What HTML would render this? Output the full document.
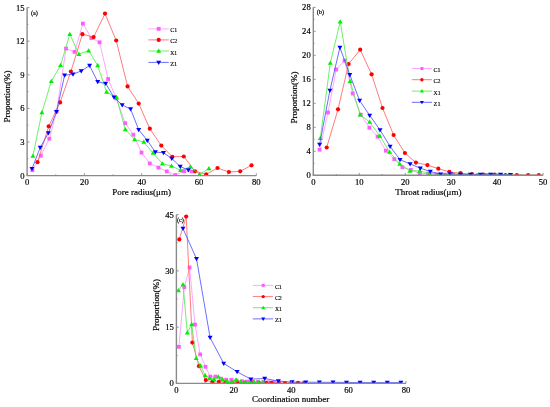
<!DOCTYPE html>
<html><head><meta charset="utf-8"><title>Pore and throat distribution</title>
<style>
html,body{margin:0;padding:0;background:#fff;}
svg{display:block;filter:blur(0.4px);}
text{font-family:"Liberation Serif","DejaVu Serif",serif;fill:#000;stroke:#000;stroke-width:0.18px;}
</style></head><body>
<svg width="550" height="407" viewBox="0 0 550 407">
<rect width="550" height="407" fill="#fff"/>
<clipPath id="ca"><rect x="20" y="0" width="245" height="175.9"/></clipPath><g clip-path="url(#ca)">
<polyline points="32.40,170.20 40.80,155.70 49.30,138.70 56.60,111.60 66.00,48.60 74.50,51.90 82.90,23.60 91.30,38.00 99.60,42.30 108.10,79.00 116.40,98.50 125.20,123.20 133.40,134.70 141.50,152.60 149.80,163.40 158.40,167.60 166.80,171.40 175.30,175.10 184.00,171.20 191.80,171.40" fill="none" stroke="#ff90ff" stroke-width="0.8" stroke-linejoin="round"/>
<rect x="30.50" y="168.30" width="3.80" height="3.80" fill="#ff5cff"/>
<rect x="38.90" y="153.80" width="3.80" height="3.80" fill="#ff5cff"/>
<rect x="47.40" y="136.80" width="3.80" height="3.80" fill="#ff5cff"/>
<rect x="54.70" y="109.70" width="3.80" height="3.80" fill="#ff5cff"/>
<rect x="64.10" y="46.70" width="3.80" height="3.80" fill="#ff5cff"/>
<rect x="72.60" y="50.00" width="3.80" height="3.80" fill="#ff5cff"/>
<rect x="81.00" y="21.70" width="3.80" height="3.80" fill="#ff5cff"/>
<rect x="89.40" y="36.10" width="3.80" height="3.80" fill="#ff5cff"/>
<rect x="97.70" y="40.40" width="3.80" height="3.80" fill="#ff5cff"/>
<rect x="106.20" y="77.10" width="3.80" height="3.80" fill="#ff5cff"/>
<rect x="114.50" y="96.60" width="3.80" height="3.80" fill="#ff5cff"/>
<rect x="123.30" y="121.30" width="3.80" height="3.80" fill="#ff5cff"/>
<rect x="131.50" y="132.80" width="3.80" height="3.80" fill="#ff5cff"/>
<rect x="139.60" y="150.70" width="3.80" height="3.80" fill="#ff5cff"/>
<rect x="147.90" y="161.50" width="3.80" height="3.80" fill="#ff5cff"/>
<rect x="156.50" y="165.70" width="3.80" height="3.80" fill="#ff5cff"/>
<rect x="164.90" y="169.50" width="3.80" height="3.80" fill="#ff5cff"/>
<rect x="173.40" y="173.20" width="3.80" height="3.80" fill="#ff5cff"/>
<rect x="182.10" y="169.30" width="3.80" height="3.80" fill="#ff5cff"/>
<rect x="189.90" y="169.50" width="3.80" height="3.80" fill="#ff5cff"/>
<polyline points="37.50,162.20 48.70,126.30 60.10,102.40 70.90,71.50 82.40,34.20 93.60,37.10 105.00,13.60 116.20,40.50 127.60,86.40 138.70,103.60 149.80,128.70 161.30,145.60 172.30,156.80 183.80,156.50 195.10,171.30 206.20,174.40 217.50,168.00 228.90,172.00 240.20,171.30 251.50,165.30" fill="none" stroke="#ff5a5a" stroke-width="0.8" stroke-linejoin="round"/>
<circle cx="37.50" cy="162.20" r="2.10" fill="#ff0000"/>
<circle cx="48.70" cy="126.30" r="2.10" fill="#ff0000"/>
<circle cx="60.10" cy="102.40" r="2.10" fill="#ff0000"/>
<circle cx="70.90" cy="71.50" r="2.10" fill="#ff0000"/>
<circle cx="82.40" cy="34.20" r="2.10" fill="#ff0000"/>
<circle cx="93.60" cy="37.10" r="2.10" fill="#ff0000"/>
<circle cx="105.00" cy="13.60" r="2.10" fill="#ff0000"/>
<circle cx="116.20" cy="40.50" r="2.10" fill="#ff0000"/>
<circle cx="127.60" cy="86.40" r="2.10" fill="#ff0000"/>
<circle cx="138.70" cy="103.60" r="2.10" fill="#ff0000"/>
<circle cx="149.80" cy="128.70" r="2.10" fill="#ff0000"/>
<circle cx="161.30" cy="145.60" r="2.10" fill="#ff0000"/>
<circle cx="172.30" cy="156.80" r="2.10" fill="#ff0000"/>
<circle cx="183.80" cy="156.50" r="2.10" fill="#ff0000"/>
<circle cx="195.10" cy="171.30" r="2.10" fill="#ff0000"/>
<circle cx="206.20" cy="174.40" r="2.10" fill="#ff0000"/>
<circle cx="217.50" cy="168.00" r="2.10" fill="#ff0000"/>
<circle cx="228.90" cy="172.00" r="2.10" fill="#ff0000"/>
<circle cx="240.20" cy="171.30" r="2.10" fill="#ff0000"/>
<circle cx="251.50" cy="165.30" r="2.10" fill="#ff0000"/>
<polyline points="32.90,156.00 41.90,112.50 51.30,81.20 60.60,65.30 69.80,34.20 78.90,54.20 88.60,50.80 97.70,65.60 106.60,92.10 116.50,97.50 125.30,129.50 134.60,139.40 143.80,142.10 153.10,153.10 162.40,163.70 171.50,166.00 180.50,170.30 190.40,166.80 199.50,174.50 208.90,168.40" fill="none" stroke="#44ee44" stroke-width="0.8" stroke-linejoin="round"/>
<polygon points="32.90,153.50 35.40,157.75 30.40,157.75" fill="#00f000"/>
<polygon points="41.90,110.00 44.40,114.25 39.40,114.25" fill="#00f000"/>
<polygon points="51.30,78.70 53.80,82.95 48.80,82.95" fill="#00f000"/>
<polygon points="60.60,62.80 63.10,67.05 58.10,67.05" fill="#00f000"/>
<polygon points="69.80,31.70 72.30,35.95 67.30,35.95" fill="#00f000"/>
<polygon points="78.90,51.70 81.40,55.95 76.40,55.95" fill="#00f000"/>
<polygon points="88.60,48.30 91.10,52.55 86.10,52.55" fill="#00f000"/>
<polygon points="97.70,63.10 100.20,67.35 95.20,67.35" fill="#00f000"/>
<polygon points="106.60,89.60 109.10,93.85 104.10,93.85" fill="#00f000"/>
<polygon points="116.50,95.00 119.00,99.25 114.00,99.25" fill="#00f000"/>
<polygon points="125.30,127.00 127.80,131.25 122.80,131.25" fill="#00f000"/>
<polygon points="134.60,136.90 137.10,141.15 132.10,141.15" fill="#00f000"/>
<polygon points="143.80,139.60 146.30,143.85 141.30,143.85" fill="#00f000"/>
<polygon points="153.10,150.60 155.60,154.85 150.60,154.85" fill="#00f000"/>
<polygon points="162.40,161.20 164.90,165.45 159.90,165.45" fill="#00f000"/>
<polygon points="171.50,163.50 174.00,167.75 169.00,167.75" fill="#00f000"/>
<polygon points="180.50,167.80 183.00,172.05 178.00,172.05" fill="#00f000"/>
<polygon points="190.40,164.30 192.90,168.55 187.90,168.55" fill="#00f000"/>
<polygon points="199.50,172.00 202.00,176.25 197.00,176.25" fill="#00f000"/>
<polygon points="208.90,165.90 211.40,170.15 206.40,170.15" fill="#00f000"/>
<polyline points="32.00,168.80 40.20,147.50 48.40,133.10 56.50,111.70 64.60,75.30 73.00,74.20 81.20,70.90 89.60,65.60 97.70,81.80 105.70,83.50 114.00,97.30 122.20,105.00 130.60,109.10 138.70,129.70 147.30,140.40 155.40,152.10 163.50,152.70 171.80,158.50 180.20,166.50 188.40,170.10" fill="none" stroke="#4848ff" stroke-width="0.8" stroke-linejoin="round"/>
<polygon points="32.00,171.30 34.50,167.05 29.50,167.05" fill="#0000ff"/>
<polygon points="40.20,150.00 42.70,145.75 37.70,145.75" fill="#0000ff"/>
<polygon points="48.40,135.60 50.90,131.35 45.90,131.35" fill="#0000ff"/>
<polygon points="56.50,114.20 59.00,109.95 54.00,109.95" fill="#0000ff"/>
<polygon points="64.60,77.80 67.10,73.55 62.10,73.55" fill="#0000ff"/>
<polygon points="73.00,76.70 75.50,72.45 70.50,72.45" fill="#0000ff"/>
<polygon points="81.20,73.40 83.70,69.15 78.70,69.15" fill="#0000ff"/>
<polygon points="89.60,68.10 92.10,63.85 87.10,63.85" fill="#0000ff"/>
<polygon points="97.70,84.30 100.20,80.05 95.20,80.05" fill="#0000ff"/>
<polygon points="105.70,86.00 108.20,81.75 103.20,81.75" fill="#0000ff"/>
<polygon points="114.00,99.80 116.50,95.55 111.50,95.55" fill="#0000ff"/>
<polygon points="122.20,107.50 124.70,103.25 119.70,103.25" fill="#0000ff"/>
<polygon points="130.60,111.60 133.10,107.35 128.10,107.35" fill="#0000ff"/>
<polygon points="138.70,132.20 141.20,127.95 136.20,127.95" fill="#0000ff"/>
<polygon points="147.30,142.90 149.80,138.65 144.80,138.65" fill="#0000ff"/>
<polygon points="155.40,154.60 157.90,150.35 152.90,150.35" fill="#0000ff"/>
<polygon points="163.50,155.20 166.00,150.95 161.00,150.95" fill="#0000ff"/>
<polygon points="171.80,161.00 174.30,156.75 169.30,156.75" fill="#0000ff"/>
<polygon points="180.20,169.00 182.70,164.75 177.70,164.75" fill="#0000ff"/>
<polygon points="188.40,172.60 190.90,168.35 185.90,168.35" fill="#0000ff"/>
</g>
<line x1="148.4" y1="28.9" x2="168.9" y2="28.9" stroke="#ff90ff" stroke-width="0.8"/>
<rect x="156.80" y="27.00" width="3.80" height="3.80" fill="#ff5cff"/>
<text x="170.3" y="32.40" font-size="6.9" textLength="6.9" lengthAdjust="spacingAndGlyphs">C1</text>
<line x1="148.4" y1="39.9" x2="168.9" y2="39.9" stroke="#ff5a5a" stroke-width="0.8"/>
<circle cx="158.70" cy="39.90" r="2.10" fill="#ff0000"/>
<text x="170.3" y="43.40" font-size="6.9" textLength="6.9" lengthAdjust="spacingAndGlyphs">C2</text>
<line x1="148.4" y1="51.0" x2="168.9" y2="51.0" stroke="#44ee44" stroke-width="0.8"/>
<polygon points="158.70,48.50 161.20,52.75 156.20,52.75" fill="#00f000"/>
<text x="170.3" y="54.50" font-size="6.9" textLength="6.9" lengthAdjust="spacingAndGlyphs">X1</text>
<line x1="148.4" y1="62.4" x2="168.9" y2="62.4" stroke="#4848ff" stroke-width="0.8"/>
<polygon points="158.70,64.90 161.20,60.65 156.20,60.65" fill="#0000ff"/>
<text x="170.3" y="65.90" font-size="6.9" textLength="6.9" lengthAdjust="spacingAndGlyphs">Z1</text>
<clipPath id="cb"><rect x="305" y="0" width="245" height="175.8"/></clipPath><g clip-path="url(#cb)">
<polyline points="319.60,149.70 328.00,112.50 336.20,69.50 344.60,60.60 352.70,93.50 360.80,114.70 369.40,127.70 377.60,136.60 385.90,150.70 394.30,159.10 402.40,167.20 410.80,169.90 419.70,173.40 428.10,173.60 436.40,174.40 444.70,174.60 453.00,174.80 461.30,174.90 469.60,175.00 477.90,175.00 486.20,175.00 494.50,175.10" fill="none" stroke="#ff90ff" stroke-width="0.8" stroke-linejoin="round"/>
<rect x="317.70" y="147.80" width="3.80" height="3.80" fill="#ff5cff"/>
<rect x="326.10" y="110.60" width="3.80" height="3.80" fill="#ff5cff"/>
<rect x="334.30" y="67.60" width="3.80" height="3.80" fill="#ff5cff"/>
<rect x="342.70" y="58.70" width="3.80" height="3.80" fill="#ff5cff"/>
<rect x="350.80" y="91.60" width="3.80" height="3.80" fill="#ff5cff"/>
<rect x="358.90" y="112.80" width="3.80" height="3.80" fill="#ff5cff"/>
<rect x="367.50" y="125.80" width="3.80" height="3.80" fill="#ff5cff"/>
<rect x="375.70" y="134.70" width="3.80" height="3.80" fill="#ff5cff"/>
<rect x="384.00" y="148.80" width="3.80" height="3.80" fill="#ff5cff"/>
<rect x="392.40" y="157.20" width="3.80" height="3.80" fill="#ff5cff"/>
<rect x="400.50" y="165.30" width="3.80" height="3.80" fill="#ff5cff"/>
<rect x="408.90" y="168.00" width="3.80" height="3.80" fill="#ff5cff"/>
<rect x="417.80" y="171.50" width="3.80" height="3.80" fill="#ff5cff"/>
<rect x="426.20" y="171.70" width="3.80" height="3.80" fill="#ff5cff"/>
<rect x="434.50" y="172.50" width="3.80" height="3.80" fill="#ff5cff"/>
<rect x="442.80" y="172.70" width="3.80" height="3.80" fill="#ff5cff"/>
<rect x="451.10" y="172.90" width="3.80" height="3.80" fill="#ff5cff"/>
<rect x="459.40" y="173.00" width="3.80" height="3.80" fill="#ff5cff"/>
<rect x="467.70" y="173.10" width="3.80" height="3.80" fill="#ff5cff"/>
<rect x="476.00" y="173.10" width="3.80" height="3.80" fill="#ff5cff"/>
<rect x="484.30" y="173.10" width="3.80" height="3.80" fill="#ff5cff"/>
<rect x="492.60" y="173.20" width="3.80" height="3.80" fill="#ff5cff"/>
<polyline points="326.70,147.50 338.00,109.30 348.60,64.00 360.20,49.70 371.60,74.30 382.50,108.00 393.60,135.00 404.90,153.00 415.90,162.60 427.40,165.10 438.30,168.70 449.30,171.90 460.50,173.20 472.00,174.20 483.40,174.60 494.60,174.70 505.50,175.00 516.90,175.00 528.10,175.00 538.80,175.00" fill="none" stroke="#ff5a5a" stroke-width="0.8" stroke-linejoin="round"/>
<circle cx="326.70" cy="147.50" r="2.10" fill="#ff0000"/>
<circle cx="338.00" cy="109.30" r="2.10" fill="#ff0000"/>
<circle cx="348.60" cy="64.00" r="2.10" fill="#ff0000"/>
<circle cx="360.20" cy="49.70" r="2.10" fill="#ff0000"/>
<circle cx="371.60" cy="74.30" r="2.10" fill="#ff0000"/>
<circle cx="382.50" cy="108.00" r="2.10" fill="#ff0000"/>
<circle cx="393.60" cy="135.00" r="2.10" fill="#ff0000"/>
<circle cx="404.90" cy="153.00" r="2.10" fill="#ff0000"/>
<circle cx="415.90" cy="162.60" r="2.10" fill="#ff0000"/>
<circle cx="427.40" cy="165.10" r="2.10" fill="#ff0000"/>
<circle cx="438.30" cy="168.70" r="2.10" fill="#ff0000"/>
<circle cx="449.30" cy="171.90" r="2.10" fill="#ff0000"/>
<circle cx="460.50" cy="173.20" r="2.10" fill="#ff0000"/>
<circle cx="472.00" cy="174.20" r="2.10" fill="#ff0000"/>
<circle cx="483.40" cy="174.60" r="2.10" fill="#ff0000"/>
<circle cx="494.60" cy="174.70" r="2.10" fill="#ff0000"/>
<circle cx="505.50" cy="175.00" r="2.10" fill="#ff0000"/>
<circle cx="516.90" cy="175.00" r="2.10" fill="#ff0000"/>
<circle cx="528.10" cy="175.00" r="2.10" fill="#ff0000"/>
<circle cx="538.80" cy="175.00" r="2.10" fill="#ff0000"/>
<polyline points="320.30,138.30 330.30,63.00 340.20,21.70 350.10,81.20 360.10,114.70 369.70,122.10 379.80,135.90 389.60,152.00 399.70,163.90 409.90,170.90 419.70,170.90 429.50,173.40 439.30,174.40 449.10,174.60 458.90,174.60 468.70,174.70 478.50,174.70 488.90,174.70 499.10,174.70 509.00,174.70" fill="none" stroke="#44ee44" stroke-width="0.8" stroke-linejoin="round"/>
<polygon points="320.30,135.80 322.80,140.05 317.80,140.05" fill="#00f000"/>
<polygon points="330.30,60.50 332.80,64.75 327.80,64.75" fill="#00f000"/>
<polygon points="340.20,19.20 342.70,23.45 337.70,23.45" fill="#00f000"/>
<polygon points="350.10,78.70 352.60,82.95 347.60,82.95" fill="#00f000"/>
<polygon points="360.10,112.20 362.60,116.45 357.60,116.45" fill="#00f000"/>
<polygon points="369.70,119.60 372.20,123.85 367.20,123.85" fill="#00f000"/>
<polygon points="379.80,133.40 382.30,137.65 377.30,137.65" fill="#00f000"/>
<polygon points="389.60,149.50 392.10,153.75 387.10,153.75" fill="#00f000"/>
<polygon points="399.70,161.40 402.20,165.65 397.20,165.65" fill="#00f000"/>
<polygon points="409.90,168.40 412.40,172.65 407.40,172.65" fill="#00f000"/>
<polygon points="419.70,168.40 422.20,172.65 417.20,172.65" fill="#00f000"/>
<polygon points="429.50,170.90 432.00,175.15 427.00,175.15" fill="#00f000"/>
<polygon points="439.30,171.90 441.80,176.15 436.80,176.15" fill="#00f000"/>
<polygon points="449.10,172.10 451.60,176.35 446.60,176.35" fill="#00f000"/>
<polygon points="458.90,172.10 461.40,176.35 456.40,176.35" fill="#00f000"/>
<polygon points="468.70,172.20 471.20,176.45 466.20,176.45" fill="#00f000"/>
<polygon points="478.50,172.20 481.00,176.45 476.00,176.45" fill="#00f000"/>
<polygon points="488.90,172.20 491.40,176.45 486.40,176.45" fill="#00f000"/>
<polygon points="499.10,172.20 501.60,176.45 496.60,176.45" fill="#00f000"/>
<polygon points="509.00,172.20 511.50,176.45 506.50,176.45" fill="#00f000"/>
<polyline points="319.60,144.50 329.90,90.50 339.90,47.50 349.80,74.80 359.60,100.50 369.70,115.40 380.00,130.00 390.10,146.40 400.00,159.70 410.10,163.90 420.30,168.20 430.30,171.50 440.60,174.20 450.40,173.90 460.50,174.40 470.60,174.40 480.70,174.50 490.80,174.50 500.70,174.60 510.60,174.70" fill="none" stroke="#4848ff" stroke-width="0.8" stroke-linejoin="round"/>
<polygon points="319.60,147.00 322.10,142.75 317.10,142.75" fill="#0000ff"/>
<polygon points="329.90,93.00 332.40,88.75 327.40,88.75" fill="#0000ff"/>
<polygon points="339.90,50.00 342.40,45.75 337.40,45.75" fill="#0000ff"/>
<polygon points="349.80,77.30 352.30,73.05 347.30,73.05" fill="#0000ff"/>
<polygon points="359.60,103.00 362.10,98.75 357.10,98.75" fill="#0000ff"/>
<polygon points="369.70,117.90 372.20,113.65 367.20,113.65" fill="#0000ff"/>
<polygon points="380.00,132.50 382.50,128.25 377.50,128.25" fill="#0000ff"/>
<polygon points="390.10,148.90 392.60,144.65 387.60,144.65" fill="#0000ff"/>
<polygon points="400.00,162.20 402.50,157.95 397.50,157.95" fill="#0000ff"/>
<polygon points="410.10,166.40 412.60,162.15 407.60,162.15" fill="#0000ff"/>
<polygon points="420.30,170.70 422.80,166.45 417.80,166.45" fill="#0000ff"/>
<polygon points="430.30,174.00 432.80,169.75 427.80,169.75" fill="#0000ff"/>
<polygon points="440.60,176.70 443.10,172.45 438.10,172.45" fill="#0000ff"/>
<polygon points="450.40,176.40 452.90,172.15 447.90,172.15" fill="#0000ff"/>
<polygon points="460.50,176.90 463.00,172.65 458.00,172.65" fill="#0000ff"/>
<polygon points="470.60,176.90 473.10,172.65 468.10,172.65" fill="#0000ff"/>
<polygon points="480.70,177.00 483.20,172.75 478.20,172.75" fill="#0000ff"/>
<polygon points="490.80,177.00 493.30,172.75 488.30,172.75" fill="#0000ff"/>
<polygon points="500.70,177.10 503.20,172.85 498.20,172.85" fill="#0000ff"/>
<polygon points="510.60,177.20 513.10,172.95 508.10,172.95" fill="#0000ff"/>
</g>
<line x1="411.8" y1="68.5" x2="432" y2="68.5" stroke="#ff90ff" stroke-width="0.8"/>
<rect x="420.38" y="66.98" width="3.04" height="3.04" fill="#ff5cff"/>
<text x="433.6" y="72.00" font-size="6.9" textLength="6.9" lengthAdjust="spacingAndGlyphs">C1</text>
<line x1="411.8" y1="79.7" x2="432" y2="79.7" stroke="#ff5a5a" stroke-width="0.8"/>
<circle cx="421.90" cy="79.70" r="1.68" fill="#ff0000"/>
<text x="433.6" y="83.20" font-size="6.9" textLength="6.9" lengthAdjust="spacingAndGlyphs">C2</text>
<line x1="411.8" y1="91.1" x2="432" y2="91.1" stroke="#44ee44" stroke-width="0.8"/>
<polygon points="421.90,89.10 423.90,92.50 419.90,92.50" fill="#00f000"/>
<text x="433.6" y="94.60" font-size="6.9" textLength="6.9" lengthAdjust="spacingAndGlyphs">X1</text>
<line x1="411.8" y1="102.3" x2="432" y2="102.3" stroke="#4848ff" stroke-width="0.8"/>
<polygon points="421.90,104.30 423.90,100.90 419.90,100.90" fill="#0000ff"/>
<text x="433.6" y="105.80" font-size="6.9" textLength="6.9" lengthAdjust="spacingAndGlyphs">Z1</text>
<clipPath id="cc"><rect x="170" y="200" width="245" height="183.8"/></clipPath><g clip-path="url(#cc)">
<polyline points="178.90,346.80 184.30,287.10 189.60,267.50 195.00,324.60 200.20,354.40 205.50,366.80 210.30,376.60 215.40,376.60 220.80,378.60 226.10,379.80 231.40,379.80 236.70,380.60 242.00,381.20 247.30,381.60 252.60,381.90 257.90,382.00 263.20,382.20 268.50,382.30 273.80,382.30 279.10,382.50" fill="none" stroke="#ff90ff" stroke-width="0.8" stroke-linejoin="round"/>
<rect x="177.00" y="344.90" width="3.80" height="3.80" fill="#ff5cff"/>
<rect x="182.40" y="285.20" width="3.80" height="3.80" fill="#ff5cff"/>
<rect x="187.70" y="265.60" width="3.80" height="3.80" fill="#ff5cff"/>
<rect x="193.10" y="322.70" width="3.80" height="3.80" fill="#ff5cff"/>
<rect x="198.30" y="352.50" width="3.80" height="3.80" fill="#ff5cff"/>
<rect x="203.60" y="364.90" width="3.80" height="3.80" fill="#ff5cff"/>
<rect x="208.40" y="374.70" width="3.80" height="3.80" fill="#ff5cff"/>
<rect x="213.50" y="374.70" width="3.80" height="3.80" fill="#ff5cff"/>
<rect x="218.90" y="376.70" width="3.80" height="3.80" fill="#ff5cff"/>
<rect x="224.20" y="377.90" width="3.80" height="3.80" fill="#ff5cff"/>
<rect x="229.50" y="377.90" width="3.80" height="3.80" fill="#ff5cff"/>
<rect x="234.80" y="378.70" width="3.80" height="3.80" fill="#ff5cff"/>
<rect x="240.10" y="379.30" width="3.80" height="3.80" fill="#ff5cff"/>
<rect x="245.40" y="379.70" width="3.80" height="3.80" fill="#ff5cff"/>
<rect x="250.70" y="380.00" width="3.80" height="3.80" fill="#ff5cff"/>
<rect x="256.00" y="380.10" width="3.80" height="3.80" fill="#ff5cff"/>
<rect x="261.30" y="380.30" width="3.80" height="3.80" fill="#ff5cff"/>
<rect x="266.60" y="380.40" width="3.80" height="3.80" fill="#ff5cff"/>
<rect x="271.90" y="380.40" width="3.80" height="3.80" fill="#ff5cff"/>
<rect x="277.20" y="380.60" width="3.80" height="3.80" fill="#ff5cff"/>
<polyline points="179.30,239.40 186.20,216.50 192.40,342.60 199.00,366.20 205.80,380.10 212.40,381.90 218.90,381.90 225.50,382.40 232.10,382.50 238.20,382.60 245.00,382.70 252.00,382.70 258.80,382.80 266.00,382.80 271.50,382.80 278.50,383.00 285.00,383.00 291.50,383.00 298.00,382.80 304.00,383.00" fill="none" stroke="#ff5a5a" stroke-width="0.8" stroke-linejoin="round"/>
<circle cx="179.30" cy="239.40" r="2.10" fill="#ff0000"/>
<circle cx="186.20" cy="216.50" r="2.10" fill="#ff0000"/>
<circle cx="192.40" cy="342.60" r="2.10" fill="#ff0000"/>
<circle cx="199.00" cy="366.20" r="2.10" fill="#ff0000"/>
<circle cx="205.80" cy="380.10" r="2.10" fill="#ff0000"/>
<circle cx="212.40" cy="381.90" r="2.10" fill="#ff0000"/>
<circle cx="218.90" cy="381.90" r="2.10" fill="#ff0000"/>
<circle cx="225.50" cy="382.40" r="2.10" fill="#ff0000"/>
<circle cx="232.10" cy="382.50" r="2.10" fill="#ff0000"/>
<circle cx="238.20" cy="382.60" r="2.10" fill="#ff0000"/>
<circle cx="245.00" cy="382.70" r="2.10" fill="#ff0000"/>
<circle cx="252.00" cy="382.70" r="2.10" fill="#ff0000"/>
<circle cx="258.80" cy="382.80" r="2.10" fill="#ff0000"/>
<circle cx="266.00" cy="382.80" r="2.10" fill="#ff0000"/>
<circle cx="271.50" cy="382.80" r="2.10" fill="#ff0000"/>
<circle cx="278.50" cy="383.00" r="2.10" fill="#ff0000"/>
<circle cx="285.00" cy="383.00" r="2.10" fill="#ff0000"/>
<circle cx="291.50" cy="383.00" r="2.10" fill="#ff0000"/>
<circle cx="298.00" cy="382.80" r="2.10" fill="#ff0000"/>
<circle cx="304.00" cy="383.00" r="2.10" fill="#ff0000"/>
<polyline points="178.40,290.40 183.00,284.50 187.30,332.70 191.70,324.20 196.20,358.20 200.60,365.70 205.20,375.50 209.60,378.20 213.90,379.30 218.20,376.70 222.70,379.80 227.20,381.30 231.70,381.70 236.00,379.80 240.80,382.10 245.30,382.30 249.80,381.90 254.10,382.10 258.50,382.40 263.00,382.20" fill="none" stroke="#44ee44" stroke-width="0.8" stroke-linejoin="round"/>
<polygon points="178.40,287.90 180.90,292.15 175.90,292.15" fill="#00f000"/>
<polygon points="183.00,282.00 185.50,286.25 180.50,286.25" fill="#00f000"/>
<polygon points="187.30,330.20 189.80,334.45 184.80,334.45" fill="#00f000"/>
<polygon points="191.70,321.70 194.20,325.95 189.20,325.95" fill="#00f000"/>
<polygon points="196.20,355.70 198.70,359.95 193.70,359.95" fill="#00f000"/>
<polygon points="200.60,363.20 203.10,367.45 198.10,367.45" fill="#00f000"/>
<polygon points="205.20,373.00 207.70,377.25 202.70,377.25" fill="#00f000"/>
<polygon points="209.60,375.70 212.10,379.95 207.10,379.95" fill="#00f000"/>
<polygon points="213.90,376.80 216.40,381.05 211.40,381.05" fill="#00f000"/>
<polygon points="218.20,374.20 220.70,378.45 215.70,378.45" fill="#00f000"/>
<polygon points="222.70,377.30 225.20,381.55 220.20,381.55" fill="#00f000"/>
<polygon points="227.20,378.80 229.70,383.05 224.70,383.05" fill="#00f000"/>
<polygon points="231.70,379.20 234.20,383.45 229.20,383.45" fill="#00f000"/>
<polygon points="236.00,377.30 238.50,381.55 233.50,381.55" fill="#00f000"/>
<polygon points="240.80,379.60 243.30,383.85 238.30,383.85" fill="#00f000"/>
<polygon points="245.30,379.80 247.80,384.05 242.80,384.05" fill="#00f000"/>
<polygon points="249.80,379.40 252.30,383.65 247.30,383.65" fill="#00f000"/>
<polygon points="254.10,379.60 256.60,383.85 251.60,383.85" fill="#00f000"/>
<polygon points="258.50,379.90 261.00,384.15 256.00,384.15" fill="#00f000"/>
<polygon points="263.00,379.70 265.50,383.95 260.50,383.95" fill="#00f000"/>
<polyline points="183.00,228.60 196.50,258.80 210.10,337.60 223.70,363.40 237.10,371.80 250.90,379.20 264.70,378.50 278.30,381.10 292.00,382.10 305.80,382.20 319.40,382.30 333.00,382.30 346.50,382.50 360.10,382.60 373.70,382.60 387.30,382.60 400.90,382.60" fill="none" stroke="#4848ff" stroke-width="0.8" stroke-linejoin="round"/>
<polygon points="183.00,231.10 185.50,226.85 180.50,226.85" fill="#0000ff"/>
<polygon points="196.50,261.30 199.00,257.05 194.00,257.05" fill="#0000ff"/>
<polygon points="210.10,340.10 212.60,335.85 207.60,335.85" fill="#0000ff"/>
<polygon points="223.70,365.90 226.20,361.65 221.20,361.65" fill="#0000ff"/>
<polygon points="237.10,374.30 239.60,370.05 234.60,370.05" fill="#0000ff"/>
<polygon points="250.90,381.70 253.40,377.45 248.40,377.45" fill="#0000ff"/>
<polygon points="264.70,381.00 267.20,376.75 262.20,376.75" fill="#0000ff"/>
<polygon points="278.30,383.60 280.80,379.35 275.80,379.35" fill="#0000ff"/>
<polygon points="292.00,384.60 294.50,380.35 289.50,380.35" fill="#0000ff"/>
<polygon points="305.80,384.70 308.30,380.45 303.30,380.45" fill="#0000ff"/>
<polygon points="319.40,384.80 321.90,380.55 316.90,380.55" fill="#0000ff"/>
<polygon points="333.00,384.80 335.50,380.55 330.50,380.55" fill="#0000ff"/>
<polygon points="346.50,385.00 349.00,380.75 344.00,380.75" fill="#0000ff"/>
<polygon points="360.10,385.10 362.60,380.85 357.60,380.85" fill="#0000ff"/>
<polygon points="373.70,385.10 376.20,380.85 371.20,380.85" fill="#0000ff"/>
<polygon points="387.30,385.10 389.80,380.85 384.80,380.85" fill="#0000ff"/>
<polygon points="400.90,385.10 403.40,380.85 398.40,380.85" fill="#0000ff"/>
</g>
<line x1="252.8" y1="285.4" x2="273.1" y2="285.4" stroke="#ff90ff" stroke-width="0.8"/>
<rect x="261.68" y="283.88" width="3.04" height="3.04" fill="#ff5cff"/>
<text x="274.9" y="288.90" font-size="6.9" textLength="6.9" lengthAdjust="spacingAndGlyphs">C1</text>
<line x1="252.8" y1="296.6" x2="273.1" y2="296.6" stroke="#ff5a5a" stroke-width="0.8"/>
<circle cx="263.20" cy="296.60" r="1.68" fill="#ff0000"/>
<text x="274.9" y="300.10" font-size="6.9" textLength="6.9" lengthAdjust="spacingAndGlyphs">C2</text>
<line x1="252.8" y1="307.7" x2="273.1" y2="307.7" stroke="#44ee44" stroke-width="0.8"/>
<polygon points="263.20,305.70 265.20,309.10 261.20,309.10" fill="#00f000"/>
<text x="274.9" y="311.20" font-size="6.9" textLength="6.9" lengthAdjust="spacingAndGlyphs">X1</text>
<line x1="252.8" y1="318.9" x2="273.1" y2="318.9" stroke="#4848ff" stroke-width="0.8"/>
<polygon points="263.20,320.90 265.20,317.50 261.20,317.50" fill="#0000ff"/>
<text x="274.9" y="322.40" font-size="6.9" textLength="6.9" lengthAdjust="spacingAndGlyphs">Z1</text>
<text x="141.6" y="194.9" font-size="9" text-anchor="middle">Pore radius(μm)</text>
<text x="428.4" y="194.7" font-size="9" text-anchor="middle">Throat radius(μm)</text>
<text x="290.7" y="402.1" font-size="9" text-anchor="middle">Coordination number</text>
<text transform="translate(9.5,96.6) rotate(-90)" font-size="9" text-anchor="middle">Proportion(%)</text>
<text transform="translate(297.0,97.4) rotate(-90)" font-size="9" text-anchor="middle">Proportion(%)</text>
<text transform="translate(159.3,304.9) rotate(-90)" font-size="9" text-anchor="middle">Proportion(%)</text>
<text x="30.9" y="15.0" font-size="6.3">(a)</text>
<text x="316.7" y="13.6" font-size="6.3">(b)</text>
<text x="176.9" y="222.0" font-size="6.3">(c)</text>
<path d="M27.1,7.4 V175.6 H256.4" fill="none" stroke="#8a8a8a" stroke-width="1.4"/>
<path d="M27.10,175.6 v-2.4 M84.40,175.6 v-2.4 M141.70,175.6 v-2.4 M199.00,175.6 v-2.4 M256.30,175.6 v-2.4 M55.75,175.6 v-1.3 M113.05,175.6 v-1.3 M170.35,175.6 v-1.3 M227.65,175.6 v-1.3 M27.1,175.60 h2.4 M27.1,142.00 h2.4 M27.1,108.40 h2.4 M27.1,74.80 h2.4 M27.1,41.20 h2.4 M27.1,7.60 h2.4 M27.1,158.80 h1.3 M27.1,125.20 h1.3 M27.1,91.60 h1.3 M27.1,58.00 h1.3 M27.1,24.40 h1.3" fill="none" stroke="#8a8a8a" stroke-width="0.9"/>
<text x="27.10" y="184.80" font-size="8.6" text-anchor="middle">0</text>
<text x="84.40" y="184.80" font-size="8.6" text-anchor="middle">20</text>
<text x="141.70" y="184.80" font-size="8.6" text-anchor="middle">40</text>
<text x="199.00" y="184.80" font-size="8.6" text-anchor="middle">60</text>
<text x="256.30" y="184.80" font-size="8.6" text-anchor="middle">80</text>
<text x="24.50" y="178.60" font-size="8.6" text-anchor="end">0</text>
<text x="24.50" y="145.00" font-size="8.6" text-anchor="end">3</text>
<text x="24.50" y="111.40" font-size="8.6" text-anchor="end">6</text>
<text x="24.50" y="77.80" font-size="8.6" text-anchor="end">9</text>
<text x="24.50" y="44.20" font-size="8.6" text-anchor="end">12</text>
<text x="24.50" y="10.60" font-size="8.6" text-anchor="end">15</text>
<path d="M313.3,7.3 V175.3 H543.1" fill="none" stroke="#8a8a8a" stroke-width="1.4"/>
<path d="M313.30,175.3 v-2.4 M359.25,175.3 v-2.4 M405.20,175.3 v-2.4 M451.15,175.3 v-2.4 M497.10,175.3 v-2.4 M543.05,175.3 v-2.4 M336.28,175.3 v-1.3 M382.23,175.3 v-1.3 M428.18,175.3 v-1.3 M474.12,175.3 v-1.3 M520.08,175.3 v-1.3 M313.3,175.30 h2.4 M313.3,151.30 h2.4 M313.3,127.30 h2.4 M313.3,103.30 h2.4 M313.3,79.30 h2.4 M313.3,55.30 h2.4 M313.3,31.30 h2.4 M313.3,7.30 h2.4 M313.3,163.30 h1.3 M313.3,139.30 h1.3 M313.3,115.30 h1.3 M313.3,91.30 h1.3 M313.3,67.30 h1.3 M313.3,43.30 h1.3 M313.3,19.30 h1.3" fill="none" stroke="#8a8a8a" stroke-width="0.9"/>
<text x="313.30" y="184.50" font-size="8.6" text-anchor="middle">0</text>
<text x="359.25" y="184.50" font-size="8.6" text-anchor="middle">10</text>
<text x="405.20" y="184.50" font-size="8.6" text-anchor="middle">20</text>
<text x="451.15" y="184.50" font-size="8.6" text-anchor="middle">30</text>
<text x="497.10" y="184.50" font-size="8.6" text-anchor="middle">40</text>
<text x="543.05" y="184.50" font-size="8.6" text-anchor="middle">50</text>
<text x="310.70" y="178.30" font-size="8.6" text-anchor="end">0</text>
<text x="310.70" y="154.30" font-size="8.6" text-anchor="end">4</text>
<text x="310.70" y="130.30" font-size="8.6" text-anchor="end">8</text>
<text x="310.70" y="106.30" font-size="8.6" text-anchor="end">12</text>
<text x="310.70" y="82.30" font-size="8.6" text-anchor="end">16</text>
<text x="310.70" y="58.30" font-size="8.6" text-anchor="end">20</text>
<text x="310.70" y="34.30" font-size="8.6" text-anchor="end">24</text>
<text x="310.70" y="10.30" font-size="8.6" text-anchor="end">28</text>
<path d="M176.4,214.5 V383.4 H406" fill="none" stroke="#8a8a8a" stroke-width="1.4"/>
<path d="M176.40,383.4 v-2.4 M233.80,383.4 v-2.4 M291.20,383.4 v-2.4 M348.60,383.4 v-2.4 M406.00,383.4 v-2.4 M205.10,383.4 v-1.3 M262.50,383.4 v-1.3 M319.90,383.4 v-1.3 M377.30,383.4 v-1.3 M176.4,383.40 h2.4 M176.4,327.15 h2.4 M176.4,270.90 h2.4 M176.4,214.65 h2.4 M176.4,355.27 h1.3 M176.4,299.02 h1.3 M176.4,242.77 h1.3" fill="none" stroke="#8a8a8a" stroke-width="0.9"/>
<text x="176.40" y="392.60" font-size="8.6" text-anchor="middle">0</text>
<text x="233.80" y="392.60" font-size="8.6" text-anchor="middle">20</text>
<text x="291.20" y="392.60" font-size="8.6" text-anchor="middle">40</text>
<text x="348.60" y="392.60" font-size="8.6" text-anchor="middle">60</text>
<text x="406.00" y="392.60" font-size="8.6" text-anchor="middle">80</text>
<text x="173.80" y="386.40" font-size="8.6" text-anchor="end">0</text>
<text x="173.80" y="330.15" font-size="8.6" text-anchor="end">15</text>
<text x="173.80" y="273.90" font-size="8.6" text-anchor="end">30</text>
<text x="173.80" y="217.65" font-size="8.6" text-anchor="end">45</text>
</svg>
</body></html>
